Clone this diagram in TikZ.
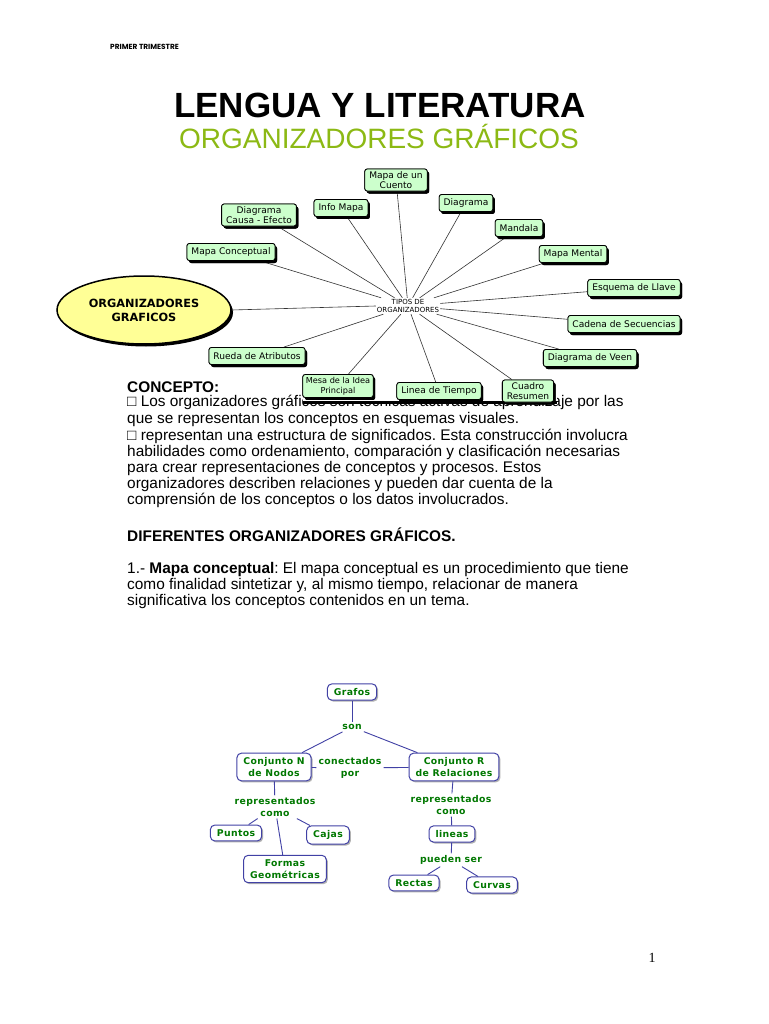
\documentclass[tikz,border=0pt]{standalone}
\usepackage{fontspec}
\setmainfont{Liberation Sans}
\newfontfamily\dv{DejaVu Sans}
\newfontfamily\dvb{DejaVu Sans}[LetterSpace=4]
\newfontfamily\pop{Poppins}
\newfontfamily\serifnum{Liberation Serif}
\usetikzlibrary{shadows,shapes.geometric}
\definecolor{tgreen}{RGB}{140,185,20}
\definecolor{boxgreen}{RGB}{204,255,204}
\definecolor{ellyel}{RGB}{255,255,150}
\definecolor{mapblue}{RGB}{65,65,165}
\definecolor{mapgreen}{RGB}{0,120,0}
\frenchspacing
\begin{document}
\begin{tikzpicture}[x=1pt,y=-1pt,
  gbox/.style={draw=black, line width=0.8pt, fill=boxgreen, rounded corners=2.5pt,
    font=\dv\fontsize{9.1}{10}\selectfont, inner xsep=4.5pt, inner ysep=2.5pt, align=center,
    minimum height=17pt,
    drop shadow={shadow xshift=2pt,shadow yshift=-2.5pt,fill=black,opacity=1}},
  spoke/.style={draw=black!80, line width=0.6pt},
  bbox/.style={draw=mapblue, line width=1pt, fill=white, rounded corners=4.5pt,
    font=\dvb\bfseries\fontsize{9.3}{11.5}\selectfont, text=mapgreen, align=center,
    inner xsep=6.5pt, inner ysep=4.5pt,
    drop shadow={shadow xshift=1.5pt,shadow yshift=-1.5pt,fill=black!30,opacity=1}},
  blab/.style={font=\dvb\bfseries\fontsize{9.3}{11.5}\selectfont, text=mapgreen, align=center, inner sep=2pt},
  blink/.style={draw=mapblue, line width=0.9pt},
  body/.style={anchor=base west, inner sep=0, font=\fontsize{15.4}{17}\selectfont},
  bodyb/.style={anchor=base west, inner sep=0, font=\bfseries\fontsize{15.4}{17}\selectfont}
]
\useasboundingbox (0,0) rectangle (768,1024);
\fill[white] (0,0) rectangle (768,1024);

% header
\node[anchor=base west, inner sep=0, font=\pop\bfseries\fontsize{7.4}{8}\selectfont] (hdr) at (110,50) {PRIMER TRIMESTRE};
\node[anchor=base, inner sep=0, font=\bfseries\fontsize{35}{40}\selectfont] (title) at (380,118) {LENGUA Y LITERATURA};
\node[anchor=base, inner sep=0, font=\fontsize{28}{32}\selectfont, text=tgreen] (sub) at (379,149) {ORGANIZADORES GRÁFICOS};

% body text (drawn first, partially covered by the diagram)
\node[bodyb] (concepto) at (127,392) {CONCEPTO:};
\node[body] (l1) at (127,406) {□ Los organizadores gráficos son técnicas activas de aprendizaje por las};
\node[body] (l2) at (127,423) {que se representan los conceptos en esquemas visuales.};
\node[body] (l3) at (127,440) {□ representan una estructura de significados. Esta construcción involucra};
\node[body] (l4) at (127,456) {habilidades como ordenamiento, comparación y clasificación necesarias};
\node[body] (l5) at (127,472) {para crear representaciones de conceptos y procesos. Estos};
\node[body] (l6) at (127,488) {organizadores describen relaciones y pueden dar cuenta de la};
\node[body] (l7) at (127,504) {comprensión de los conceptos o los datos involucrados.};

\node[bodyb] (dif) at (127,541) {DIFERENTES ORGANIZADORES GRÁFICOS.};
\node[body] (m1) at (127,573) {1.- \textbf{Mapa conceptual}: El mapa conceptual es un procedimiento que tiene};
\node[body] (m2) at (127,589) {como finalidad sintetizar y, al mismo tiempo, relacionar de manera};
\node[body] (m3) at (127,605) {significativa los conceptos contenidos en un tema.};

% diagram image edge covering the text
\fill[white] (303,368) rectangle (557,401);
\draw[black, line width=2.5pt] (303,402.5) -- (557,402.5);

% radial diagram
\node[ellipse, draw=black, line width=1.5pt, fill=ellyel, minimum width=174pt, minimum height=68pt,
  font=\dv\bfseries\fontsize{11.3}{14}\selectfont, align=center,
  drop shadow={shadow xshift=2pt,shadow yshift=-2.5pt,fill=black,opacity=1}] (ell) at (144,310) {ORGANIZADORES\\GRAFICOS};
\node[font=\dv\fontsize{7}{8.7}\selectfont, align=center, inner sep=1pt, fill=white] (c) at (408,306) {TIPOS DE\\ORGANIZADORES};

\node[gbox] (cuento) at (396,180) {Mapa de un\\Cuento};
\node[gbox] (info) at (341,208) {Info Mapa};
\node[gbox] (causa) at (259,215) {Diagrama\\Causa - Efecto};
\node[gbox] (diag) at (466,203) {Diagrama};
\node[gbox] (mandala) at (519,228) {Mandala};
\node[gbox] (mental) at (573,254) {Mapa Mental};
\node[gbox] (concep) at (231,252) {Mapa Conceptual};
\node[gbox] (llave) at (634,288) {Esquema de Llave};
\node[gbox] (cadena) at (624,324) {Cadena de Secuencias};
\node[gbox] (veen) at (590,358) {Diagrama de Veen};
\node[gbox] (rueda) at (257,356) {Rueda de Atributos};
\node[gbox, font=\dv\fontsize{8.2}{10}\selectfont, inner xsep=3pt] (mesa) at (338,386) {Mesa de la Idea\\Principal};
\node[gbox] (linea) at (439,391) {Linea de Tiempo};
\node[gbox] (cuadro) at (528,391) {Cuadro\\Resumen};

\foreach \b in {cuento,info,causa,diag,mandala,mental,concep,llave,cadena,veen,rueda,mesa,linea,cuadro}{
  \draw[spoke] (c) -- (\b);
}
\draw[spoke] (ell.east) -- (c.west);

% redraw boxes on top of spokes
\node[gbox] at (cuento) {Mapa de un\\Cuento};
\node[gbox] at (info) {Info Mapa};
\node[gbox] at (causa) {Diagrama\\Causa - Efecto};
\node[gbox] at (diag) {Diagrama};
\node[gbox] at (mandala) {Mandala};
\node[gbox] at (mental) {Mapa Mental};
\node[gbox] at (concep) {Mapa Conceptual};
\node[gbox] at (llave) {Esquema de Llave};
\node[gbox] at (cadena) {Cadena de Secuencias};
\node[gbox] at (veen) {Diagrama de Veen};
\node[gbox] at (rueda) {Rueda de Atributos};
\node[gbox, font=\dv\fontsize{8.2}{10}\selectfont, inner xsep=3pt] at (mesa) {Mesa de la Idea\\Principal};
\node[gbox] at (linea) {Linea de Tiempo};
\node[gbox] at (cuadro) {Cuadro\\Resumen};

% concept map
\node[bbox] (grafos) at (352,692) {Grafos};
\node[blab] (son) at (352,727) {son};
\node[bbox] (cn) at (274,767) {Conjunto N\\de Nodos};
\node[blab] (con) at (350,768) {conectados\\por};
\node[bbox] (cr) at (454,767) {Conjunto R\\de Relaciones};
\node[blab] (repl) at (275,807) {representados\\como};
\node[blab] (repr) at (451,805) {representados\\como};
\node[bbox] (puntos) at (236,833) {Puntos};
\node[bbox] (cajas) at (328,835) {Cajas};
\node[bbox] (formas) at (285,869) {Formas\\Geométricas};
\node[bbox] (lineas) at (452,834) {lineas};
\node[blab] (pueden) at (451,860) {pueden ser};
\node[bbox] (rectas) at (414,883) {Rectas};
\node[bbox] (curvas) at (492,885) {Curvas};

\draw[blink] (grafos) -- (son);
\draw[blink] (son) -- (cn);
\draw[blink] (son) -- (cr);
\draw[blink] (cn) -- (con);
\draw[blink] (con) -- (cr);
\draw[blink] (cn) -- (repl);
\draw[blink] (repl) -- (puntos);
\draw[blink] (repl) -- (formas);
\draw[blink] (repl) -- (cajas);
\draw[blink] (cr) -- (repr);
\draw[blink] (repr) -- (lineas);
\draw[blink] (lineas) -- (pueden);
\draw[blink] (pueden) -- (rectas);
\draw[blink] (pueden) -- (curvas);

% page number
\node[anchor=base, inner sep=0, font=\serifnum\fontsize{14}{16}\selectfont] (pnum) at (652,962) {1};
\end{tikzpicture}
\end{document}
